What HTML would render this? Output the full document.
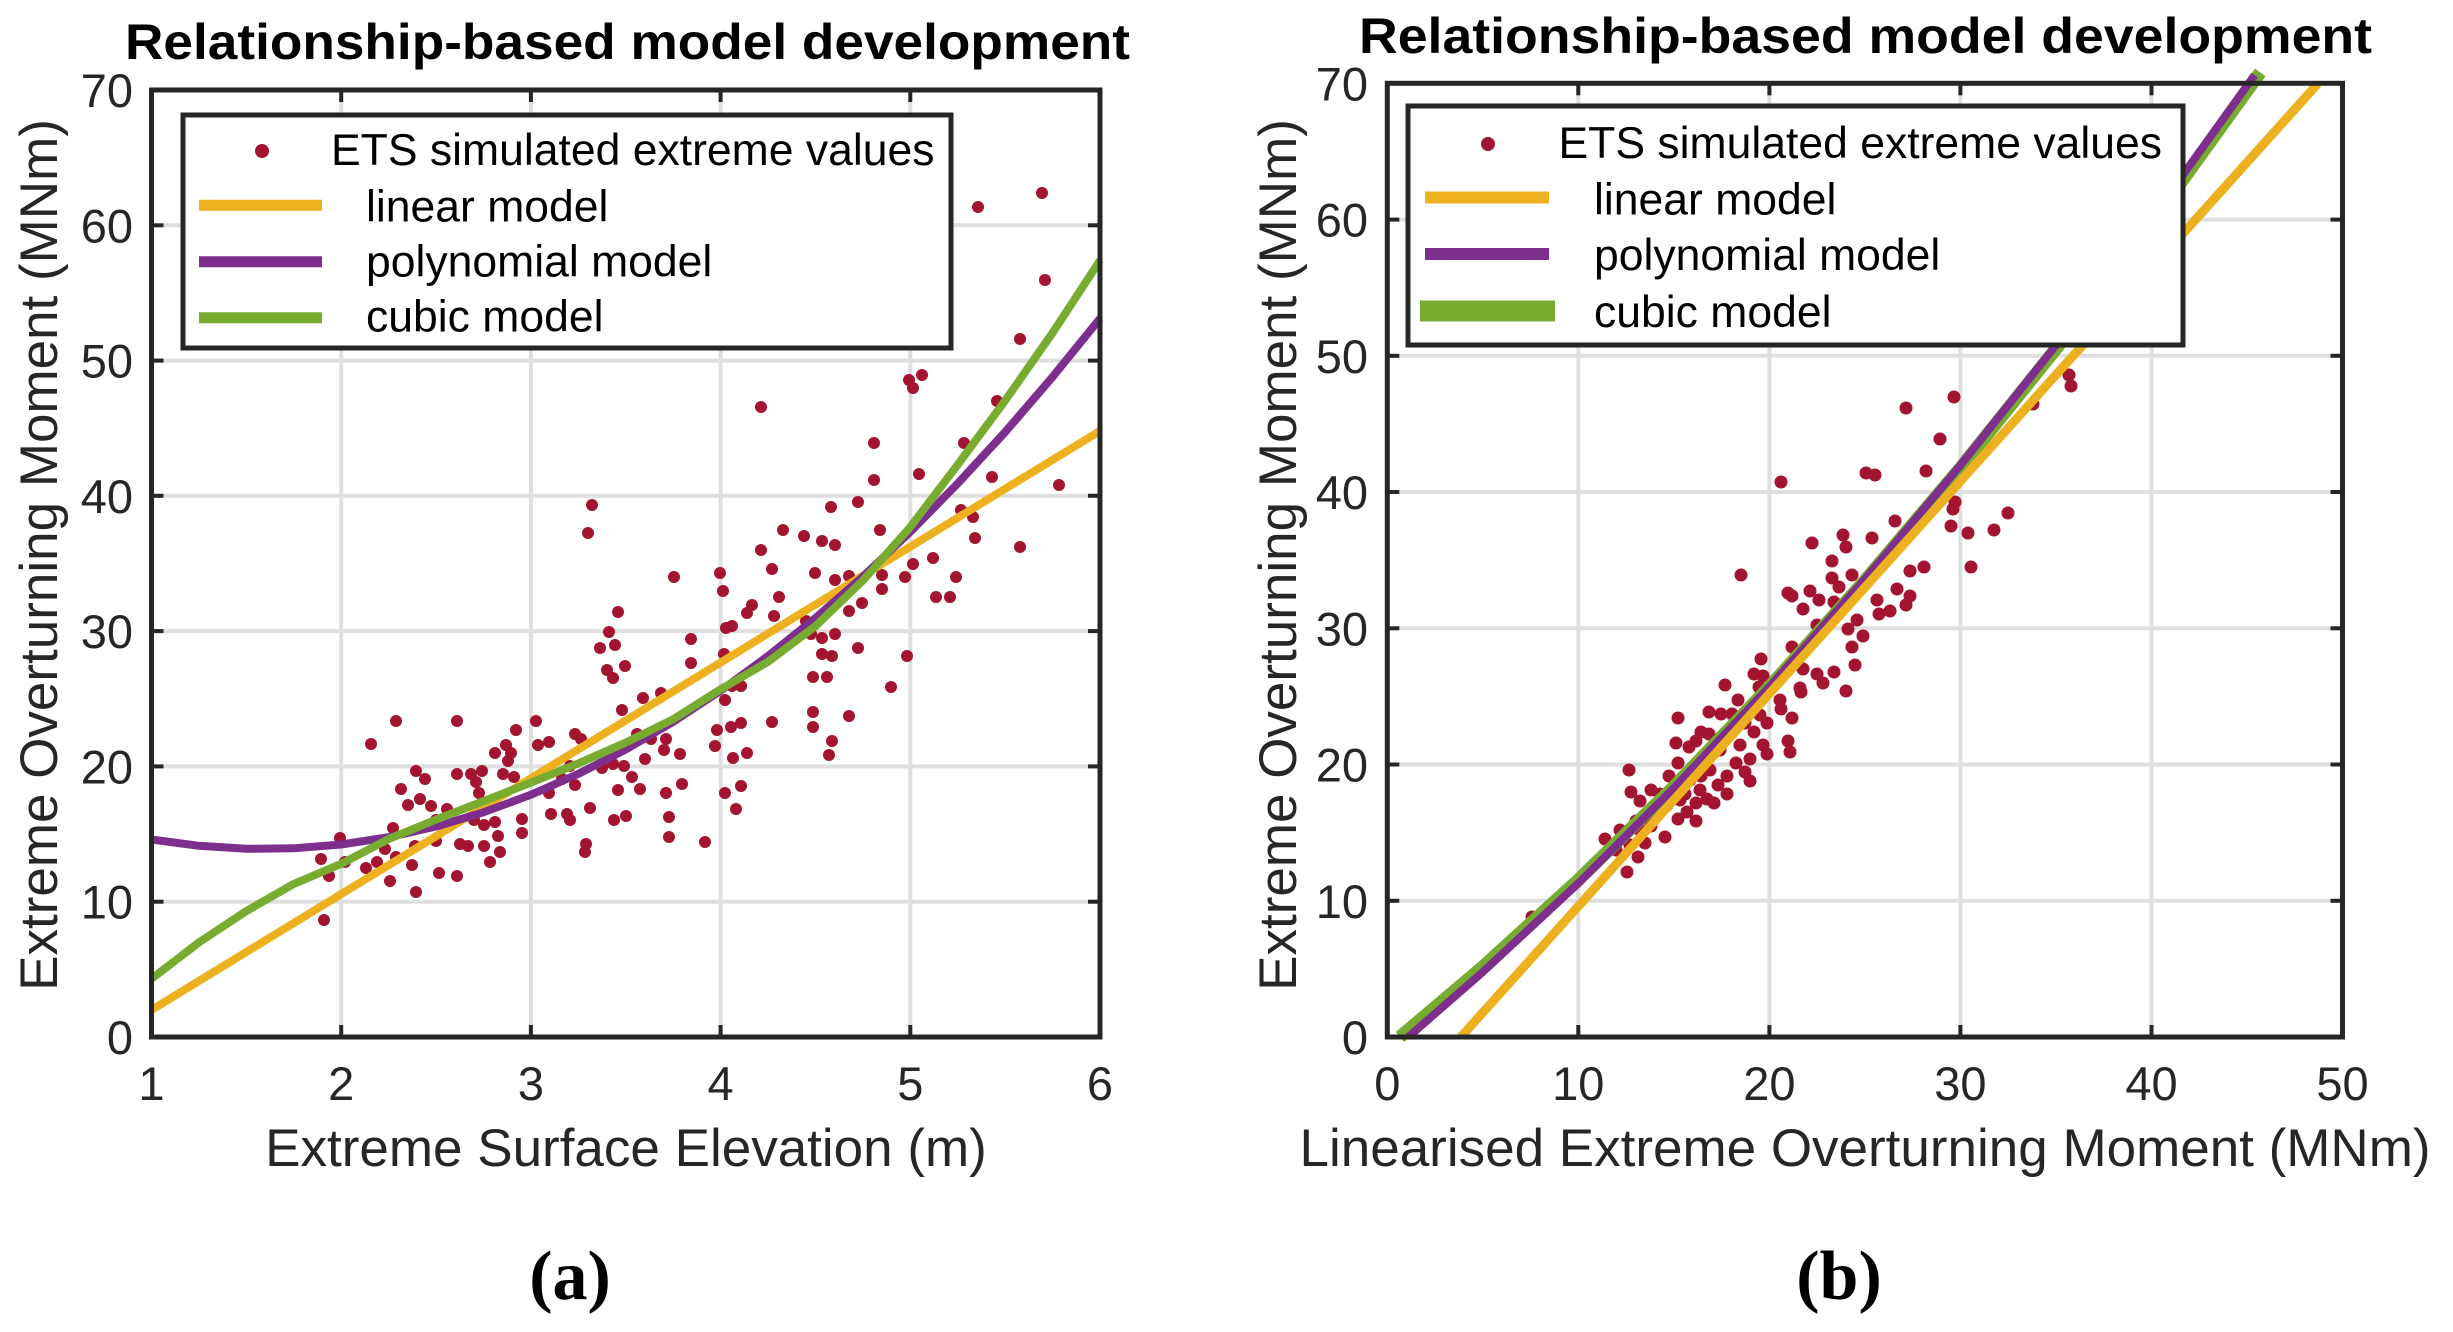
<!DOCTYPE html>
<html><head><meta charset="utf-8"><style>
html,body{margin:0;padding:0;background:#fff;}
svg{display:block;}
text{font-family:"Liberation Sans",Arial,sans-serif;}
</style></head><body>
<svg width="2453" height="1332" viewBox="0 0 2453 1332" xmlns="http://www.w3.org/2000/svg">
<rect width="2453" height="1332" fill="#fff"/>

<!-- ===== LEFT PANEL ===== -->
<g stroke="#dfdfdf" stroke-width="4">
<line x1="341.2" y1="90" x2="341.2" y2="1037"/><line x1="530.9" y1="90" x2="530.9" y2="1037"/>
<line x1="720.6" y1="90" x2="720.6" y2="1037"/><line x1="910.3" y1="90" x2="910.3" y2="1037"/>
<line x1="151.5" y1="901.7" x2="1100" y2="901.7"/><line x1="151.5" y1="766.4" x2="1100" y2="766.4"/>
<line x1="151.5" y1="631.1" x2="1100" y2="631.1"/><line x1="151.5" y1="495.8" x2="1100" y2="495.8"/>
<line x1="151.5" y1="360.6" x2="1100" y2="360.6"/><line x1="151.5" y1="225.3" x2="1100" y2="225.3"/>
</g>
<g fill="#A2142F">
<circle cx="978" cy="207" r="6"/><circle cx="1042" cy="193" r="6"/><circle cx="1045" cy="280" r="6"/><circle cx="1020" cy="339" r="6"/><circle cx="909" cy="380" r="6"/><circle cx="913" cy="388" r="6"/><circle cx="922" cy="375" r="6"/><circle cx="761" cy="407" r="6"/><circle cx="997" cy="401" r="6"/><circle cx="874" cy="443" r="6"/><circle cx="964" cy="443" r="6"/><circle cx="874" cy="480" r="6"/><circle cx="919" cy="474" r="6"/><circle cx="992" cy="477" r="6"/><circle cx="1059" cy="485" r="6"/><circle cx="592" cy="505" r="6"/><circle cx="588" cy="533" r="6"/><circle cx="831" cy="507" r="6"/><circle cx="858" cy="502" r="6"/><circle cx="880" cy="530" r="6"/><circle cx="783" cy="530" r="6"/><circle cx="804" cy="536" r="6"/><circle cx="822" cy="541" r="6"/><circle cx="835" cy="545" r="6"/><circle cx="761" cy="550" r="6"/><circle cx="975" cy="538" r="6"/><circle cx="1020" cy="547" r="6"/><circle cx="961" cy="510" r="6"/><circle cx="973" cy="517" r="6"/><circle cx="933" cy="558" r="6"/><circle cx="913" cy="564" r="6"/><circle cx="905" cy="577" r="6"/><circle cx="956" cy="577" r="6"/><circle cx="936" cy="597" r="6"/><circle cx="950" cy="597" r="6"/><circle cx="772" cy="569" r="6"/><circle cx="815" cy="573" r="6"/><circle cx="674" cy="577" r="6"/><circle cx="720" cy="573" r="6"/><circle cx="723" cy="591" r="6"/><circle cx="618" cy="612" r="6"/><circle cx="849" cy="576" r="6"/><circle cx="835" cy="580" r="6"/><circle cx="882" cy="575" r="6"/><circle cx="882" cy="589" r="6"/><circle cx="862" cy="603" r="6"/><circle cx="849" cy="611" r="6"/><circle cx="779" cy="597" r="6"/><circle cx="752" cy="605" r="6"/><circle cx="747" cy="613" r="6"/><circle cx="774" cy="616" r="6"/><circle cx="732" cy="626" r="6"/><circle cx="726" cy="628" r="6"/><circle cx="806" cy="621" r="6"/><circle cx="811" cy="634" r="6"/><circle cx="822" cy="638" r="6"/><circle cx="835" cy="634" r="6"/><circle cx="822" cy="654" r="6"/><circle cx="832" cy="656" r="6"/><circle cx="858" cy="648" r="6"/><circle cx="907" cy="656" r="6"/><circle cx="891" cy="687" r="6"/><circle cx="813" cy="677" r="6"/><circle cx="827" cy="677" r="6"/><circle cx="609" cy="632" r="6"/><circle cx="600" cy="648" r="6"/><circle cx="615" cy="645" r="6"/><circle cx="607" cy="670" r="6"/><circle cx="613" cy="678" r="6"/><circle cx="625" cy="666" r="6"/><circle cx="691" cy="639" r="6"/><circle cx="691" cy="663" r="6"/><circle cx="724" cy="654" r="6"/><circle cx="732" cy="686" r="6"/><circle cx="741" cy="686" r="6"/><circle cx="725" cy="700" r="6"/><circle cx="741" cy="723" r="6"/><circle cx="731" cy="727" r="6"/><circle cx="717" cy="730" r="6"/><circle cx="715" cy="746" r="6"/><circle cx="733" cy="758" r="6"/><circle cx="747" cy="753" r="6"/><circle cx="725" cy="793" r="6"/><circle cx="741" cy="786" r="6"/><circle cx="736" cy="809" r="6"/><circle cx="772" cy="722" r="6"/><circle cx="813" cy="712" r="6"/><circle cx="813" cy="727" r="6"/><circle cx="849" cy="716" r="6"/><circle cx="832" cy="741" r="6"/><circle cx="829" cy="755" r="6"/><circle cx="705" cy="842" r="6"/><circle cx="669" cy="837" r="6"/><circle cx="669" cy="817" r="6"/><circle cx="682" cy="784" r="6"/><circle cx="666" cy="793" r="6"/><circle cx="680" cy="754" r="6"/><circle cx="664" cy="750" r="6"/><circle cx="666" cy="739" r="6"/><circle cx="651" cy="739" r="6"/><circle cx="643" cy="698" r="6"/><circle cx="661" cy="693" r="6"/><circle cx="622" cy="710" r="6"/><circle cx="637" cy="734" r="6"/><circle cx="645" cy="759" r="6"/><circle cx="640" cy="789" r="6"/><circle cx="624" cy="766" r="6"/><circle cx="632" cy="777" r="6"/><circle cx="618" cy="790" r="6"/><circle cx="626" cy="816" r="6"/><circle cx="614" cy="820" r="6"/><circle cx="613" cy="764" r="6"/><circle cx="602" cy="768" r="6"/><circle cx="590" cy="808" r="6"/><circle cx="586" cy="844" r="6"/><circle cx="585" cy="852" r="6"/><circle cx="575" cy="734" r="6"/><circle cx="581" cy="739" r="6"/><circle cx="570" cy="766" r="6"/><circle cx="562" cy="779" r="6"/><circle cx="575" cy="785" r="6"/><circle cx="551" cy="814" r="6"/><circle cx="567" cy="814" r="6"/><circle cx="570" cy="820" r="6"/><circle cx="538" cy="745" r="6"/><circle cx="549" cy="742" r="6"/><circle cx="536" cy="721" r="6"/><circle cx="516" cy="730" r="6"/><circle cx="506" cy="745" r="6"/><circle cx="511" cy="753" r="6"/><circle cx="495" cy="753" r="6"/><circle cx="508" cy="761" r="6"/><circle cx="514" cy="777" r="6"/><circle cx="503" cy="774" r="6"/><circle cx="522" cy="819" r="6"/><circle cx="522" cy="833" r="6"/><circle cx="549" cy="793" r="6"/><circle cx="457" cy="721" r="6"/><circle cx="396" cy="721" r="6"/><circle cx="371" cy="744" r="6"/><circle cx="482" cy="771" r="6"/><circle cx="471" cy="774" r="6"/><circle cx="457" cy="774" r="6"/><circle cx="476" cy="782" r="6"/><circle cx="479" cy="793" r="6"/><circle cx="416" cy="771" r="6"/><circle cx="425" cy="779" r="6"/><circle cx="401" cy="789" r="6"/><circle cx="408" cy="805" r="6"/><circle cx="420" cy="799" r="6"/><circle cx="431" cy="806" r="6"/><circle cx="447" cy="809" r="6"/><circle cx="436" cy="820" r="6"/><circle cx="474" cy="820" r="6"/><circle cx="484" cy="825" r="6"/><circle cx="495" cy="822" r="6"/><circle cx="498" cy="836" r="6"/><circle cx="484" cy="846" r="6"/><circle cx="468" cy="846" r="6"/><circle cx="500" cy="852" r="6"/><circle cx="490" cy="862" r="6"/><circle cx="460" cy="844" r="6"/><circle cx="436" cy="841" r="6"/><circle cx="415" cy="846" r="6"/><circle cx="393" cy="828" r="6"/><circle cx="385" cy="849" r="6"/><circle cx="396" cy="857" r="6"/><circle cx="377" cy="862" r="6"/><circle cx="366" cy="868" r="6"/><circle cx="412" cy="865" r="6"/><circle cx="340" cy="838" r="6"/><circle cx="321" cy="859" r="6"/><circle cx="329" cy="876" r="6"/><circle cx="390" cy="881" r="6"/><circle cx="439" cy="873" r="6"/><circle cx="457" cy="876" r="6"/><circle cx="416" cy="892" r="6"/><circle cx="324" cy="920" r="6"/><circle cx="345" cy="862" r="6"/>
</g>
<g fill="none" stroke-linejoin="round" stroke-width="8">
<line x1="151.5" y1="1009.9" x2="1100" y2="430.9" stroke="#EDB120"/>
<polyline stroke="#7E2F8E" points="151.5,839.5 198.9,845.8 246.4,848.8 293.8,848.3 341.2,844.5 388.6,837.2 436.1,826.5 483.5,812.3 530.9,794.8 578.3,773.9 625.8,749.5 673.2,721.8 720.6,690.7 768,656 815.5,618 862.9,576.6 910.3,531.8 957.7,483.5 1005.2,432 1052.6,376.9 1100,318.5"/>
<polyline stroke="#77AC30" points="151.5,978.8 198.9,942.4 246.4,911 293.8,883.9 341.2,863.8 388.6,839.1 436.1,819.6 483.5,801.1 530.9,782.7 578.3,763.4 625.8,742.6 673.2,719.2 720.6,689.3 768,661.8 815.5,626.1 862.9,580.5 910.3,527 957.7,464.7 1005.2,400.5 1052.6,332.8 1100,260.4"/>
</g>
<!-- frame & ticks -->
<g stroke="#262626" stroke-width="4">
<line x1="341.2" y1="1037" x2="341.2" y2="1025"/><line x1="530.9" y1="1037" x2="530.9" y2="1025"/><line x1="720.6" y1="1037" x2="720.6" y2="1025"/><line x1="910.3" y1="1037" x2="910.3" y2="1025"/>
<line x1="341.2" y1="90" x2="341.2" y2="102"/><line x1="530.9" y1="90" x2="530.9" y2="102"/><line x1="720.6" y1="90" x2="720.6" y2="102"/><line x1="910.3" y1="90" x2="910.3" y2="102"/>
<line x1="151.5" y1="901.7" x2="163.5" y2="901.7"/><line x1="151.5" y1="766.4" x2="163.5" y2="766.4"/><line x1="151.5" y1="631.1" x2="163.5" y2="631.1"/><line x1="151.5" y1="495.8" x2="163.5" y2="495.8"/><line x1="151.5" y1="360.6" x2="163.5" y2="360.6"/><line x1="151.5" y1="225.3" x2="163.5" y2="225.3"/>
<line x1="1100" y1="901.7" x2="1088" y2="901.7"/><line x1="1100" y1="766.4" x2="1088" y2="766.4"/><line x1="1100" y1="631.1" x2="1088" y2="631.1"/><line x1="1100" y1="495.8" x2="1088" y2="495.8"/><line x1="1100" y1="360.6" x2="1088" y2="360.6"/><line x1="1100" y1="225.3" x2="1088" y2="225.3"/>
</g>
<rect x="151.5" y="90" width="948.5" height="947" fill="none" stroke="#262626" stroke-width="5"/>
<!-- legend -->
<rect x="183" y="115" width="768" height="233" fill="#fff" stroke="#262626" stroke-width="5"/>
<circle cx="262" cy="151" r="7" fill="#A2142F"/>
<line x1="199" y1="205.3" x2="322" y2="205.3" stroke="#EDB120" stroke-width="11"/>
<line x1="199" y1="261.7" x2="322" y2="261.7" stroke="#7E2F8E" stroke-width="11"/>
<line x1="199" y1="317.7" x2="322" y2="317.7" stroke="#77AC30" stroke-width="11"/>
<g font-size="44.5" fill="#000">
<text x="331" y="165">ETS simulated extreme values</text>
<text x="366" y="221.7">linear model</text>
<text x="366" y="276.7">polynomial model</text>
<text x="366" y="331.7">cubic model</text>
</g>
<!-- tick labels -->
<g font-size="47" fill="#262626" text-anchor="end">
<text x="133" y="1054">0</text><text x="133" y="918.7">10</text><text x="133" y="783.4">20</text><text x="133" y="648.1">30</text><text x="133" y="512.8">40</text><text x="133" y="377.6">50</text><text x="133" y="242.3">60</text><text x="133" y="107">70</text>
</g>
<g font-size="47" fill="#262626" text-anchor="middle">
<text x="151.5" y="1100">1</text><text x="341.2" y="1100">2</text><text x="530.9" y="1100">3</text><text x="720.6" y="1100">4</text><text x="910.3" y="1100">5</text><text x="1100" y="1100">6</text>
</g>
<text x="626" y="1166" font-size="53" fill="#262626" text-anchor="middle">Extreme Surface Elevation (m)</text>
<text transform="translate(57,555) rotate(-90)" font-size="53" fill="#262626" text-anchor="middle">Extreme Overturning Moment (MNm)</text>
<text x="125" y="59" font-size="50" font-weight="bold" fill="#000" textLength="1005" lengthAdjust="spacingAndGlyphs">Relationship-based model development</text>

<!-- ===== RIGHT PANEL ===== -->
<g stroke="#dfdfdf" stroke-width="4">
<line x1="1578.3" y1="83.3" x2="1578.3" y2="1037"/><line x1="1769.4" y1="83.3" x2="1769.4" y2="1037"/>
<line x1="1960.4" y1="83.3" x2="1960.4" y2="1037"/><line x1="2151.5" y1="83.3" x2="2151.5" y2="1037"/>
<line x1="1387.3" y1="900.8" x2="2342.5" y2="900.8"/><line x1="1387.3" y1="764.5" x2="2342.5" y2="764.5"/>
<line x1="1387.3" y1="628.3" x2="2342.5" y2="628.3"/><line x1="1387.3" y1="492" x2="2342.5" y2="492"/>
<line x1="1387.3" y1="355.8" x2="2342.5" y2="355.8"/><line x1="1387.3" y1="219.6" x2="2342.5" y2="219.6"/>
</g>
<g fill="#A2142F">
<circle cx="1954" cy="397" r="6.5"/><circle cx="1906" cy="408" r="6.5"/><circle cx="1940" cy="439" r="6.5"/><circle cx="1926" cy="471" r="6.5"/><circle cx="1866" cy="473" r="6.5"/><circle cx="1875" cy="475" r="6.5"/><circle cx="1781" cy="482" r="6.5"/><circle cx="1955" cy="502" r="6.5"/><circle cx="1953" cy="509" r="6.5"/><circle cx="1895" cy="521" r="6.5"/><circle cx="1951" cy="526" r="6.5"/><circle cx="1968" cy="533" r="6.5"/><circle cx="1994" cy="530" r="6.5"/><circle cx="2008" cy="513" r="6.5"/><circle cx="1971" cy="567" r="6.5"/><circle cx="1812" cy="543" r="6.5"/><circle cx="1843" cy="535" r="6.5"/><circle cx="1846" cy="547" r="6.5"/><circle cx="1872" cy="538" r="6.5"/><circle cx="1832" cy="561" r="6.5"/><circle cx="1852" cy="575" r="6.5"/><circle cx="1741" cy="575" r="6.5"/><circle cx="1832" cy="578" r="6.5"/><circle cx="1839" cy="587" r="6.5"/><circle cx="1910" cy="571" r="6.5"/><circle cx="1924" cy="567" r="6.5"/><circle cx="1897" cy="589" r="6.5"/><circle cx="1910" cy="596" r="6.5"/><circle cx="1906" cy="605" r="6.5"/><circle cx="1877" cy="600" r="6.5"/><circle cx="1879" cy="614" r="6.5"/><circle cx="1890" cy="611" r="6.5"/><circle cx="1788" cy="593" r="6.5"/><circle cx="1792" cy="596" r="6.5"/><circle cx="1810" cy="591" r="6.5"/><circle cx="1819" cy="600" r="6.5"/><circle cx="1803" cy="609" r="6.5"/><circle cx="1834" cy="602" r="6.5"/><circle cx="1857" cy="620" r="6.5"/><circle cx="1817" cy="625" r="6.5"/><circle cx="1848" cy="629" r="6.5"/><circle cx="1863" cy="636" r="6.5"/><circle cx="1852" cy="647" r="6.5"/><circle cx="1855" cy="665" r="6.5"/><circle cx="1846" cy="691" r="6.5"/><circle cx="1792" cy="647" r="6.5"/><circle cx="1803" cy="669" r="6.5"/><circle cx="1817" cy="674" r="6.5"/><circle cx="1834" cy="672" r="6.5"/><circle cx="1823" cy="683" r="6.5"/><circle cx="1801" cy="692" r="6.5"/><circle cx="1761" cy="659" r="6.5"/><circle cx="1754" cy="674" r="6.5"/><circle cx="1763" cy="676" r="6.5"/><circle cx="1759" cy="687" r="6.5"/><circle cx="1725" cy="685" r="6.5"/><circle cx="1738" cy="700" r="6.5"/><circle cx="1709" cy="712" r="6.5"/><circle cx="1721" cy="714" r="6.5"/><circle cx="1732" cy="714" r="6.5"/><circle cx="1678" cy="718" r="6.5"/><circle cx="1701" cy="732" r="6.5"/><circle cx="1696" cy="741" r="6.5"/><circle cx="1676" cy="743" r="6.5"/><circle cx="1689" cy="747" r="6.5"/><circle cx="1709" cy="734" r="6.5"/><circle cx="1727" cy="732" r="6.5"/><circle cx="1745" cy="723" r="6.5"/><circle cx="1767" cy="723" r="6.5"/><circle cx="1781" cy="709" r="6.5"/><circle cx="1792" cy="718" r="6.5"/><circle cx="1788" cy="741" r="6.5"/><circle cx="1790" cy="752" r="6.5"/><circle cx="1754" cy="732" r="6.5"/><circle cx="1763" cy="745" r="6.5"/><circle cx="1767" cy="754" r="6.5"/><circle cx="1750" cy="759" r="6.5"/><circle cx="1736" cy="763" r="6.5"/><circle cx="1745" cy="772" r="6.5"/><circle cx="1750" cy="781" r="6.5"/><circle cx="1727" cy="776" r="6.5"/><circle cx="1718" cy="785" r="6.5"/><circle cx="1707" cy="799" r="6.5"/><circle cx="1696" cy="803" r="6.5"/><circle cx="1687" cy="812" r="6.5"/><circle cx="1696" cy="821" r="6.5"/><circle cx="1678" cy="819" r="6.5"/><circle cx="1667" cy="805" r="6.5"/><circle cx="1660" cy="794" r="6.5"/><circle cx="1651" cy="790" r="6.5"/><circle cx="1640" cy="801" r="6.5"/><circle cx="1631" cy="792" r="6.5"/><circle cx="1629" cy="770" r="6.5"/><circle cx="1678" cy="763" r="6.5"/><circle cx="1669" cy="776" r="6.5"/><circle cx="1656" cy="812" r="6.5"/><circle cx="1665" cy="837" r="6.5"/><circle cx="1645" cy="843" r="6.5"/><circle cx="1638" cy="857" r="6.5"/><circle cx="1627" cy="872" r="6.5"/><circle cx="1620" cy="830" r="6.5"/><circle cx="1605" cy="839" r="6.5"/><circle cx="1616" cy="850" r="6.5"/><circle cx="1636" cy="821" r="6.5"/><circle cx="1651" cy="826" r="6.5"/><circle cx="1701" cy="776" r="6.5"/><circle cx="1714" cy="803" r="6.5"/><circle cx="1727" cy="794" r="6.5"/><circle cx="1674" cy="790" r="6.5"/><circle cx="1685" cy="794" r="6.5"/><circle cx="1532" cy="917" r="6.5"/><circle cx="2069" cy="375" r="6.5"/><circle cx="2071" cy="386" r="6.5"/><circle cx="2033" cy="404" r="6.5"/><circle cx="1700" cy="760" r="6.5"/><circle cx="1720" cy="750" r="6.5"/><circle cx="1660" cy="810" r="6.5"/><circle cx="1680" cy="800" r="6.5"/><circle cx="1700" cy="790" r="6.5"/><circle cx="1640" cy="830" r="6.5"/><circle cx="1650" cy="818" r="6.5"/><circle cx="1710" cy="770" r="6.5"/><circle cx="1760" cy="715" r="6.5"/><circle cx="1780" cy="700" r="6.5"/><circle cx="1800" cy="688" r="6.5"/><circle cx="1630" cy="845" r="6.5"/><circle cx="1740" cy="745" r="6.5"/><circle cx="1690" cy="780" r="6.5"/>
</g>
<g fill="none" stroke-linejoin="round">
<polyline stroke="#77AC30" stroke-width="13" points="1399.9,1037 1482.8,966.8 1578.3,879.9 1673.9,786.6 1769.4,686.9 1864.9,580.6 1960.4,467.9 2055.9,348.9 2151.5,223.4 2260.3,72.4"/>
<polyline stroke="#7E2F8E" stroke-width="8" points="1408.3,1037 1482.8,972 1578.3,883.3 1673.9,788.1 1769.4,686.9 1864.9,579.2 1960.4,465.3 2055.9,345.2 2151.5,218.7 2254.6,75.1"/>
<line x1="1460.8" y1="1037" x2="2317.7" y2="83.7" stroke="#EDB120" stroke-width="9"/>
</g>
<g stroke="#262626" stroke-width="4">
<line x1="1578.3" y1="1037" x2="1578.3" y2="1025"/><line x1="1769.4" y1="1037" x2="1769.4" y2="1025"/><line x1="1960.4" y1="1037" x2="1960.4" y2="1025"/><line x1="2151.5" y1="1037" x2="2151.5" y2="1025"/>
<line x1="1578.3" y1="83.3" x2="1578.3" y2="95.3"/><line x1="1769.4" y1="83.3" x2="1769.4" y2="95.3"/><line x1="1960.4" y1="83.3" x2="1960.4" y2="95.3"/><line x1="2151.5" y1="83.3" x2="2151.5" y2="95.3"/>
<line x1="1387.3" y1="900.8" x2="1399.3" y2="900.8"/><line x1="1387.3" y1="764.5" x2="1399.3" y2="764.5"/><line x1="1387.3" y1="628.3" x2="1399.3" y2="628.3"/><line x1="1387.3" y1="492" x2="1399.3" y2="492"/><line x1="1387.3" y1="355.8" x2="1399.3" y2="355.8"/><line x1="1387.3" y1="219.6" x2="1399.3" y2="219.6"/>
<line x1="2342.5" y1="900.8" x2="2330.5" y2="900.8"/><line x1="2342.5" y1="764.5" x2="2330.5" y2="764.5"/><line x1="2342.5" y1="628.3" x2="2330.5" y2="628.3"/><line x1="2342.5" y1="492" x2="2330.5" y2="492"/><line x1="2342.5" y1="355.8" x2="2330.5" y2="355.8"/><line x1="2342.5" y1="219.6" x2="2330.5" y2="219.6"/>
</g>
<rect x="1387.3" y="83.3" width="955.2" height="953.7" fill="none" stroke="#262626" stroke-width="5"/>
<!-- legend -->
<rect x="1408" y="106" width="775" height="239" fill="#fff" stroke="#262626" stroke-width="5"/>
<circle cx="1488" cy="144" r="7" fill="#A2142F"/>
<line x1="1425" y1="197.5" x2="1549" y2="197.5" stroke="#EDB120" stroke-width="12"/>
<line x1="1425" y1="254" x2="1549" y2="254" stroke="#7E2F8E" stroke-width="12"/>
<line x1="1420" y1="311" x2="1555" y2="311" stroke="#77AC30" stroke-width="21"/>
<g font-size="44.5" fill="#000">
<text x="1558.5" y="158">ETS simulated extreme values</text>
<text x="1594" y="214.5">linear model</text>
<text x="1594" y="270">polynomial model</text>
<text x="1594" y="327">cubic model</text>
</g>
<g font-size="47" fill="#262626" text-anchor="end">
<text x="1368" y="1054">0</text><text x="1368" y="917.8">10</text><text x="1368" y="781.5">20</text><text x="1368" y="645.3">30</text><text x="1368" y="509">40</text><text x="1368" y="372.8">50</text><text x="1368" y="236.6">60</text><text x="1368" y="100.3">70</text>
</g>
<g font-size="47" fill="#262626" text-anchor="middle">
<text x="1387.3" y="1100">0</text><text x="1578.3" y="1100">10</text><text x="1769.4" y="1100">20</text><text x="1960.4" y="1100">30</text><text x="2151.5" y="1100">40</text><text x="2342.5" y="1100">50</text>
</g>
<text x="1865" y="1166" font-size="53" fill="#262626" text-anchor="middle">Linearised Extreme Overturning Moment (MNm)</text>
<text transform="translate(1296,555) rotate(-90)" font-size="53" fill="#262626" text-anchor="middle">Extreme Overturning Moment (MNm)</text>
<text x="1359" y="53" font-size="50" font-weight="bold" fill="#000" textLength="1013" lengthAdjust="spacingAndGlyphs">Relationship-based model development</text>

<!-- subfigure labels -->
<text x="570" y="1299" font-family="'Liberation Serif',serif" font-size="70" font-weight="bold" fill="#000" text-anchor="middle" style="font-family:'Liberation Serif',serif">(a)</text>
<text x="1839" y="1299" font-family="'Liberation Serif',serif" font-size="70" font-weight="bold" fill="#000" text-anchor="middle" style="font-family:'Liberation Serif',serif">(b)</text>
</svg>
</body></html>
